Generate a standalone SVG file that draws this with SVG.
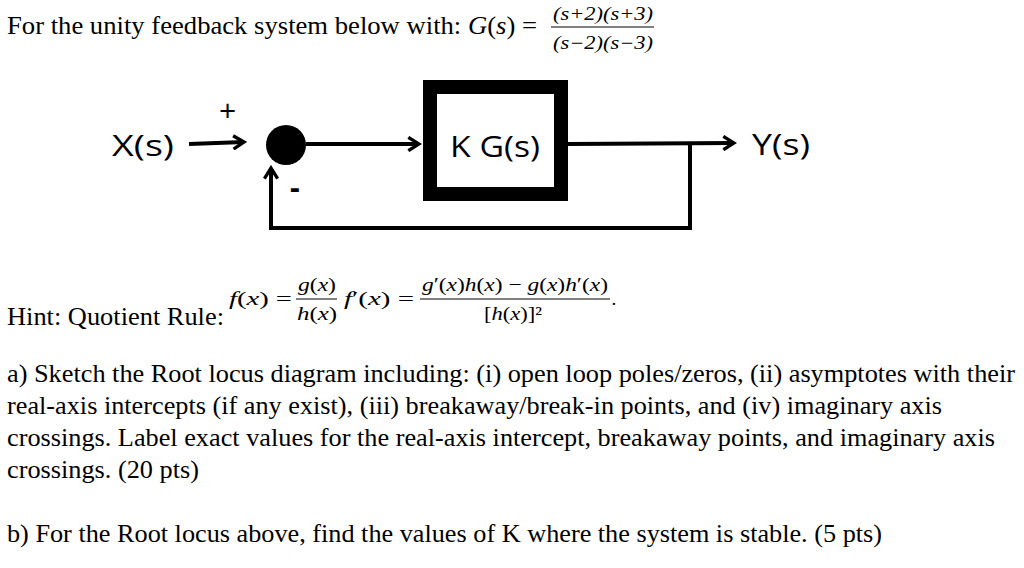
<svg xmlns="http://www.w3.org/2000/svg" width="1024" height="568" viewBox="0 0 1024 568">
<style>
.t{font-family:"Liberation Serif",serif;font-size:25px;fill:#000}
.m{font-family:"Liberation Serif",serif;font-style:italic;fill:#000}
.d{font-family:"Open Sans","DejaVu Sans",sans-serif;font-size:30px;fill:#000}
.ln{stroke:#000;stroke-width:4;fill:none}
</style>
<defs><marker id="a" viewBox="0 0 12 12" refX="10" refY="6" markerWidth="4" markerHeight="4" orient="auto" markerUnits="strokeWidth"><path d="M2,1 L10,6 L2,11" fill="none" stroke="#000" stroke-width="2.5"/></marker></defs>
<rect width="1024" height="568" fill="#fff"/>
<text class="t" x="7" y="34" textLength="530" lengthAdjust="spacingAndGlyphs">For the unity feedback system below with: <tspan class="m">G</tspan>(<tspan class="m">s</tspan>) =</text>
<text class="m" x="553" y="20" font-size="18" textLength="100" lengthAdjust="spacingAndGlyphs">(s+2)(s+3)</text>
<line x1="551" y1="27" x2="654" y2="27" stroke="#000" stroke-width="1.2"/>
<text class="m" x="553" y="49" font-size="18" textLength="100" lengthAdjust="spacingAndGlyphs">(s−2)(s−3)</text>
<g id="x"><text class="d" x="112" y="156" textLength="62" lengthAdjust="spacingAndGlyphs">X(s)</text></g>
<g id="y"><text class="d" x="752" y="155" textLength="58" lengthAdjust="spacingAndGlyphs">Y(s)</text></g>
<g id="sum"><circle cx="286" cy="145" r="20" fill="#000"/><text class="d" x="219" y="121" font-size="36">+</text><text class="d" x="290" y="198" font-weight="bold">-</text></g>
<g id="box"><rect x="430" y="87" width="131" height="107" fill="#fff" stroke="#000" stroke-width="14"/><text class="d" x="450" y="157" textLength="90" lengthAdjust="spacingAndGlyphs">K G(s)</text></g>
<g id="conn">
<line class="ln" x1="189" y1="144" x2="244" y2="142" marker-end="url(#a)"/>
<line class="ln" x1="306" y1="144" x2="419" y2="144" marker-end="url(#a)"/>
<line class="ln" x1="568" y1="144" x2="734" y2="143" marker-end="url(#a)"/>
<polyline class="ln" points="690,143 690,228 271,228 271,168" marker-end="url(#a)"/>
</g>
<text class="t" x="7" y="325" textLength="217" lengthAdjust="spacingAndGlyphs">Hint: Quotient Rule:</text>
<text class="m" x="229" y="305" font-size="19" textLength="63" lengthAdjust="spacingAndGlyphs">f<tspan font-style="normal">(</tspan>x<tspan font-style="normal">) =</tspan></text>
<text class="m" x="298" y="291" font-size="19" textLength="38" lengthAdjust="spacingAndGlyphs">g<tspan font-style="normal">(</tspan>x<tspan font-style="normal">)</tspan></text>
<line x1="296" y1="299" x2="337" y2="299" stroke="#000" stroke-width="1"/>
<text class="m" x="297" y="320" font-size="19" textLength="40" lengthAdjust="spacingAndGlyphs">h<tspan font-style="normal">(</tspan>x<tspan font-style="normal">)</tspan></text>
<text class="m" x="344" y="305" font-size="19" textLength="70" lengthAdjust="spacingAndGlyphs">f<tspan font-style="normal">′(</tspan>x<tspan font-style="normal">) =</tspan></text>
<text class="m" x="422" y="291" font-size="19" textLength="186" lengthAdjust="spacingAndGlyphs">g<tspan font-style="normal">′(</tspan>x<tspan font-style="normal">)</tspan>h<tspan font-style="normal">(</tspan>x<tspan font-style="normal">) − </tspan>g<tspan font-style="normal">(</tspan>x<tspan font-style="normal">)</tspan>h<tspan font-style="normal">′(</tspan>x<tspan font-style="normal">)</tspan></text>
<line x1="420" y1="299" x2="610" y2="299" stroke="#000" stroke-width="1"/>
<text class="m" x="484" y="320" font-size="19" textLength="58" lengthAdjust="spacingAndGlyphs"><tspan font-style="normal">[</tspan>h<tspan font-style="normal">(</tspan>x<tspan font-style="normal">)]²</tspan></text>
<text class="m" x="612" y="305" font-size="19">.</text>
<text class="t" x="7" y="382" textLength="1008" lengthAdjust="spacingAndGlyphs">a) Sketch the Root locus diagram including: (i) open loop poles/zeros, (ii) asymptotes with their</text>
<text class="t" x="7" y="414" textLength="935" lengthAdjust="spacingAndGlyphs">real-axis intercepts (if any exist), (iii) breakaway/break-in points, and (iv) imaginary axis</text>
<text class="t" x="7" y="446" textLength="988" lengthAdjust="spacingAndGlyphs">crossings. Label exact values for the real-axis intercept, breakaway points, and imaginary axis</text>
<text class="t" x="7" y="478" textLength="192" lengthAdjust="spacingAndGlyphs">crossings. (20 pts)</text>
<text class="t" x="7" y="542" textLength="875" lengthAdjust="spacingAndGlyphs">b) For the Root locus above, find the values of K where the system is stable. (5 pts)</text>
</svg>
